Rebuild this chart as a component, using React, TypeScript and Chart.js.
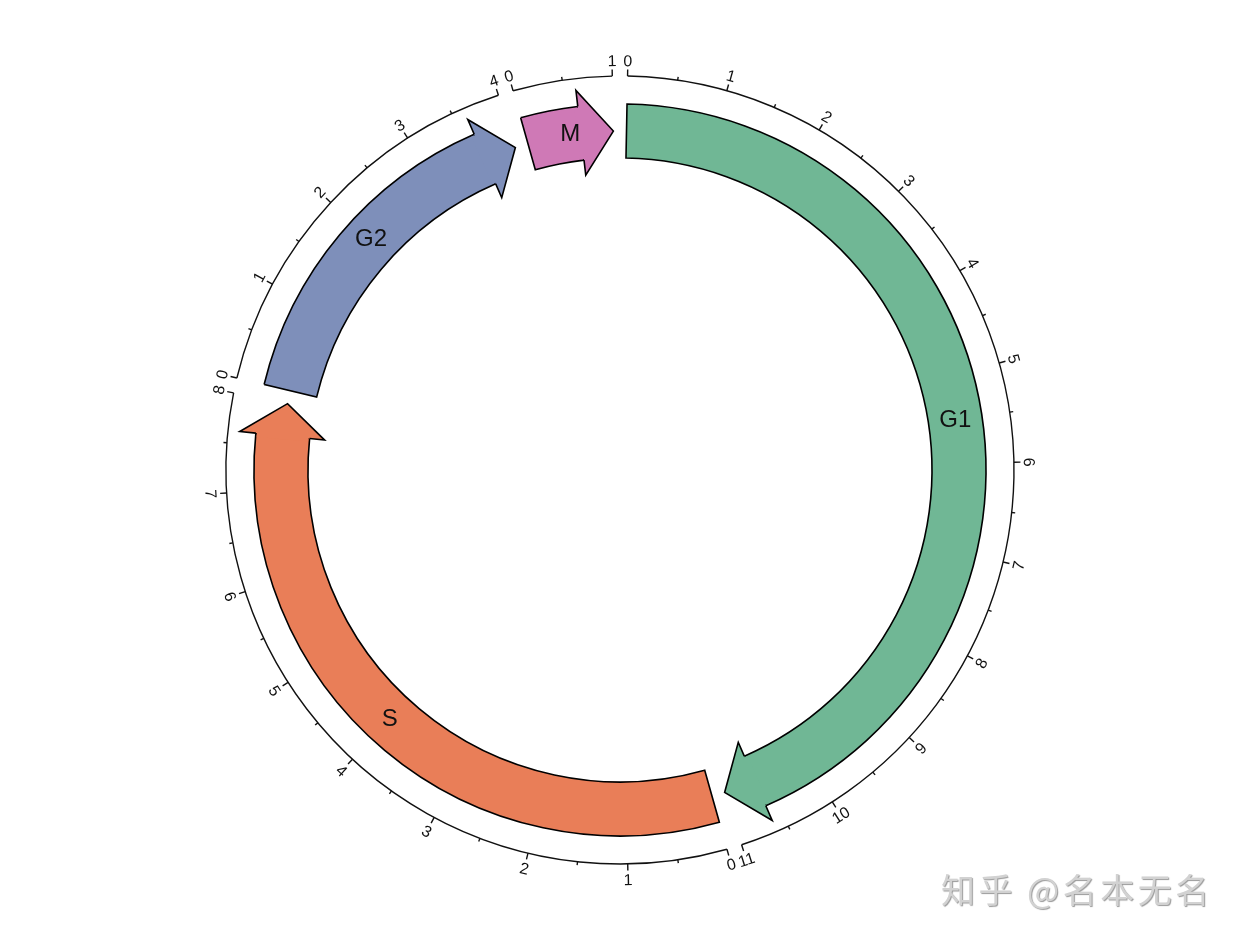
import React, { useEffect, useRef } from "react";
import { Chart, ArcElement, DoughnutController } from "chart.js";

Chart.register(ArcElement, DoughnutController);

// cell cycle phases and their duration (hours)
const phases = ["G1", "S", "G2", "M"];
const durations = [11, 8, 4, 1];
const phaseColors = ["#70b795", "#e97e58", "#7e8fba", "#cf79b6"];
const tickStep = 1;
const minorStep = 0.5;

const GAP = 0.152; // empty space between two phases, in hours
const HEAD_DEG = 5.5; // arrow head length, degrees
const OUTER = 366;
const INNER = 312;

const total = durations.reduce((a, b) => a + b, 0) + GAP * phases.length;
const headUnits = (HEAD_DEG * total) / 360;

const ringData: number[] = [];
const ringColors: string[] = [];
const ringBorders: number[] = [];
durations.forEach((d, i) => {
  ringData.push(d - headUnits, headUnits, GAP);
  ringColors.push(phaseColors[i], "rgba(0,0,0,0)", "rgba(0,0,0,0)");
  ringBorders.push(1.6, 0, 0);
});

const norm = (a: number) => {
  const t = 2 * Math.PI;
  return ((a % t) + t) % t;
};

const cyclePlugin = {
  id: "cycleArrows",
  afterDatasetsDraw(chart: any) {
    const ctx: CanvasRenderingContext2D = chart.ctx;
    const arcs = chart.getDatasetMeta(0).data;
    ctx.save();
    phases.forEach((name, i) => {
      const body = arcs[3 * i].getProps(
        ["x", "y", "startAngle", "endAngle", "innerRadius", "outerRadius"],
        true
      );
      const head = arcs[3 * i + 1].getProps(["startAngle", "endAngle"], true);
      const cx = body.x;
      const cy = body.y;
      const P = (r: number, a: number): [number, number] => [
        cx + r * Math.cos(a),
        cy + r * Math.sin(a),
      ];
      const ri = body.innerRadius;
      const ro = body.outerRadius;
      const band = ro - ri;
      const rm = (ri + ro) / 2;
      const hi = ri - 0.28 * band;
      const ho = ro + 0.3 * band;
      const b = head.startAngle;
      const t = head.endAngle;

      // arrow head (fill also hides the body's end edge)
      ctx.fillStyle = phaseColors[i];
      ctx.beginPath();
      ctx.moveTo(...P(ri + 1.2, b - 0.01));
      ctx.lineTo(...P(ro - 1.2, b - 0.01));
      ctx.lineTo(...P(ro - 1.2, b));
      ctx.lineTo(...P(ho, b));
      ctx.lineTo(...P(rm, t));
      ctx.lineTo(...P(hi, b));
      ctx.lineTo(...P(ri + 1.2, b));
      ctx.closePath();
      ctx.fill();
      ctx.strokeStyle = "#000";
      ctx.lineWidth = 1.6;
      ctx.lineJoin = "miter";
      ctx.beginPath();
      ctx.moveTo(...P(ro, b));
      ctx.lineTo(...P(ho, b));
      ctx.lineTo(...P(rm, t));
      ctx.lineTo(...P(hi, b));
      ctx.lineTo(...P(ri, b));
      ctx.stroke();

      // phase name
      const a0 = body.startAngle;
      const a1 = head.endAngle;
      const mid = (a0 + a1) / 2;
      ctx.fillStyle = "#111";
      ctx.font = "24px 'Liberation Sans', Arial, sans-serif";
      ctx.textAlign = "center";
      ctx.textBaseline = "middle";
      ctx.fillText(name, ...P(rm, mid));

      // axis
      const rAxis = ro + 28;
      ctx.strokeStyle = "#111";
      ctx.lineWidth = 1.4;
      ctx.beginPath();
      ctx.arc(cx, cy, rAxis, a0, a1);
      ctx.stroke();
      const d = durations[i];
      const steps = Math.round(d / minorStep);
      ctx.font = "16px 'Liberation Sans', Arial, sans-serif";
      ctx.textBaseline = "alphabetic";
      for (let k = 0; k <= steps; k++) {
        const v = k * minorStep;
        const a = a0 + ((a1 - a0) * v) / d;
        const major = Math.abs(v / tickStep - Math.round(v / tickStep)) < 1e-6;
        const len = major ? 6.5 : 3.5;
        ctx.beginPath();
        ctx.moveTo(...P(rAxis, a));
        ctx.lineTo(...P(rAxis + len, a));
        ctx.stroke();
        if (major) {
          const theta = norm(a + Math.PI / 2);
          const flip = theta > Math.PI / 2 && theta < (3 * Math.PI) / 2;
          const [lx, ly] = P(rAxis + 15.5, a);
          ctx.save();
          ctx.translate(lx, ly);
          ctx.rotate(flip ? theta + Math.PI : theta);
          ctx.fillText(String(Math.round(v)), 0, 5.7);
          ctx.restore();
        }
      }
    });
    ctx.restore();
  },
};

export default function App() {
  const canvasRef = useRef<HTMLCanvasElement>(null);

  useEffect(() => {
    if (!canvasRef.current) return;
    const chart = new Chart(canvasRef.current, {
      type: "doughnut",
      data: {
        labels: ringData.map((_, i) => String(i)),
        datasets: [
          {
            data: ringData,
            backgroundColor: ringColors,
            borderColor: "#000",
            borderWidth: ringBorders,
            borderJoinStyle: "miter",
            borderAlign: "center",
          } as any,
        ],
      },
      options: {
        responsive: false,
        animation: false,
        events: [],
        rotation: 1.1,
        circumference: 360,
        radius: OUTER,
        cutout: `${(INNER / OUTER) * 100}%`,
        layout: { padding: 0 },
        plugins: { legend: { display: false }, tooltip: { enabled: false } },
      } as any,
      plugins: [cyclePlugin],
    });
    return () => chart.destroy();
  }, []);

  return (
    <div
      style={{
        position: "absolute",
        left: 0,
        top: 0,
        width: 1240,
        height: 940,
        background: "#fff",
      }}
    >
      <canvas ref={canvasRef} width={1240} height={940} style={{ display: "block" }} />
      <div
        style={{
          position: "absolute",
          left: 941,
          top: 864,
          fontFamily: "'Noto Sans CJK SC', sans-serif",
          fontSize: 34,
          letterSpacing: 3.5,
          color: "#d2d2d2",
          textShadow: "1px 1px 1px #9a9a9a",
          whiteSpace: "nowrap",
        }}
      >
        知乎 @名本无名
      </div>
    </div>
  );
}
